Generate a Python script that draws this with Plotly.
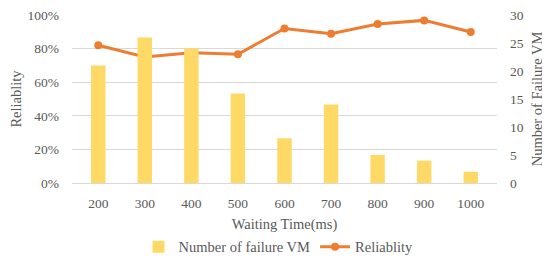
import plotly.graph_objects as go

categories = ["200", "300", "400", "500", "600", "700", "800", "900", "1000"]
failure_vm = [21, 26, 24, 16, 8, 14, 5, 4, 2]
reliability = [0.82, 0.75, 0.775, 0.766, 0.92, 0.889, 0.946, 0.968, 0.899]

font_family = "Liberation Serif"
gray = "#595959"

fig = go.Figure()
fig.add_trace(go.Bar(
    x=categories, y=failure_vm, name="Number of failure VM",
    marker=dict(color="#ffd966", line=dict(width=0)), yaxis="y2",
))
fig.add_trace(go.Scatter(
    x=categories, y=reliability, name="Reliablity", mode="lines+markers",
    line=dict(color="#ed7d31", width=3), marker=dict(color="#ed7d31", size=8),
    yaxis="y",
))

# page body has an 8px margin, so the figure is drawn 8px in from the corner
fig.update_layout(
    width=542, height=251,
    margin=dict(l=64, r=53, t=7, b=76, autoexpand=False),
    plot_bgcolor="white", paper_bgcolor="white",
    font=dict(family=font_family, size=14, color=gray),
    bargap=0.69,
    showlegend=True,
    legend=dict(orientation="h", x=0.486, xanchor="center", y=-0.285, yanchor="top",
                font=dict(size=14.5, color=gray), traceorder="normal",
                itemwidth=30, tracegroupgap=0),
    xaxis=dict(title=dict(text="Waiting Time(ms)", standoff=8, font=dict(size=14.5)),
               showgrid=False, showline=True, linecolor="#d9d9d9", ticks="",
               tickfont=dict(size=13.5), automargin=False, ticklabelstandoff=8),
    yaxis=dict(title=dict(text="Reliablity", standoff=11, font=dict(size=14.5)),
               range=[0, 1], tickvals=[0, 0.2, 0.4, 0.6, 0.8, 1.0],
               tickformat=".0%", showgrid=True, gridcolor="#d9d9d9", gridwidth=1,
               zeroline=False, ticks="", tickfont=dict(size=13.5),
               automargin=False, ticklabelstandoff=12, ticklabeloverflow="allow"),
    yaxis2=dict(title=dict(text="Number of Failure VM", standoff=9, font=dict(size=14.5)),
                overlaying="y", side="right", range=[0, 30],
                tickvals=[0, 5, 10, 15, 20, 25, 30], showgrid=False, zeroline=False,
                ticks="", tickfont=dict(size=13.5), automargin=False,
                ticklabelstandoff=12, ticklabeloverflow="allow"),
)

fig.write_html("out.html")
